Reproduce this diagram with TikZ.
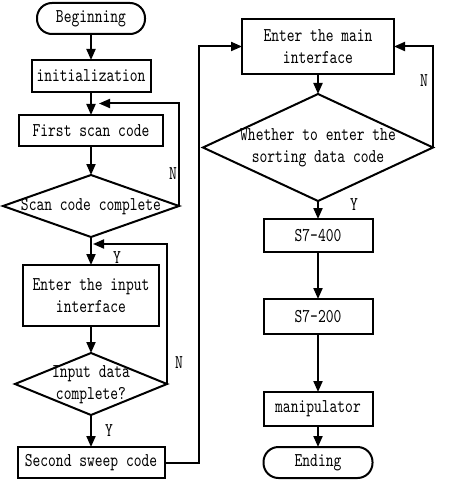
\documentclass[tikz,border=0pt]{standalone}
\usepackage{fontspec}
\setmonofont{lmmono10-regular.otf}[FakeStretch=0.76]
\usepackage{tikz}
\usetikzlibrary{positioning}
\usetikzlibrary{calc, shapes.geometric, arrows.meta}

\newcommand{\diatext}[1]{\makebox[0pt]{\begin{tabular}{@{}c@{}}#1\end{tabular}}}

\begin{document}
\begin{tikzpicture}
[
	x=1pt, y=-1pt,
	node font=\ttfamily\fontsize{19.5}{22}\selectfont,
	proc/.style={draw, rectangle, line width=2pt, inner sep=0pt, outer sep=0pt},
	term/.style={draw, rectangle, line width=2pt, inner sep=0pt, outer sep=0pt, rounded corners=15pt},
	decision/.style={draw, diamond, line width=2pt, inner sep=0pt, outer sep=0pt},
	flow/.style={-{Triangle[length=11pt, width=9pt]}, line width=2pt},
	lab/.style={inner sep=1pt}
  ]
	\useasboundingbox (0,0) rectangle (474,481);

	% left column
	\node[term, minimum width=108pt, minimum height=31pt] (Begin) at (91,18.5) {Beginning};
	\node[proc, minimum width=119pt, minimum height=32pt, below=26pt of Begin] (Init) {initialization};
	\node[proc, minimum width=144pt, minimum height=31pt, below=23pt of Init] (First) {First scan code};
	\node[decision, minimum width=176pt, minimum height=62pt, below=29pt of First] (Scan) {\diatext{Scan code complete}};
	\node[proc, minimum width=136pt, minimum height=61pt, below=28pt of Scan, align=center] (Input) {Enter the input\\interface};
	\node[decision, minimum width=152pt, minimum height=62pt, below=27pt of Input] (Data) {\diatext{Input data\\complete?}};
	\node[proc, minimum width=147pt, minimum height=31pt, below=32pt of Data] (Second) {Second sweep code};

	% right column
	\node[proc, minimum width=152pt, minimum height=55pt, align=center] (Main) at (318,46.5) {Enter the main\\interface};
	\node[decision, minimum width=230pt, minimum height=107pt, below=20pt of Main] (Sort) {\diatext{Whether to enter the\\sorting data code}};
	\node[proc, minimum width=109pt, minimum height=33pt, below=18pt of Sort] (S400) {S7-400};
	\node[proc, minimum width=109pt, minimum height=35pt, below=47pt of S400] (S200) {S7-200};
	\node[proc, minimum width=109pt, minimum height=34pt, below=58pt of S200] (Manip) {manipulator};
	\node[term, minimum width=109pt, minimum height=31pt, below=21pt of Manip] (End) {Ending};

	\coordinate (J1) at ($(Init.south)!0.5!(First.north)$);
	\coordinate (J2) at ($(Scan.south)!0.25!(Input.north)$);

	\draw[flow] (Begin) -- (Init);
	\draw[flow] (Init) -- (First);
	\draw[flow] (First) -- (Scan);
	\draw[flow] (Scan) -- (Input) node[lab, pos=0.75, right=20pt] {Y};
	\draw[flow] (Scan.east) |- ([xshift=8pt]J1) node[lab, pos=0.16, left] {N};
	\draw[flow] (Input) -- (Data);
	\draw[flow] (Data) -- (Second) node[lab, pos=0.47, right=12pt] {Y};
	\draw[flow] (Data.east) |- ([xshift=2pt]J2) node[lab, pos=0.075, right=6pt] {N};
	\draw[flow] (Second.east) -- ++(34pt,0) |- (Main.west);

	\draw[flow] (Main) -- (Sort);
	\draw[flow] (Sort.east) |- (Main.east) node[lab, pos=0.33, left=3pt] {N};
	\draw[flow] (Sort) -- (S400) node[lab, pos=0.17, right=30pt] {Y};
	\draw[flow] (S400) -- (S200);
	\draw[flow] (S200) -- (Manip);
	\draw[flow] (Manip) -- (End);
\end{tikzpicture}
\end{document}
